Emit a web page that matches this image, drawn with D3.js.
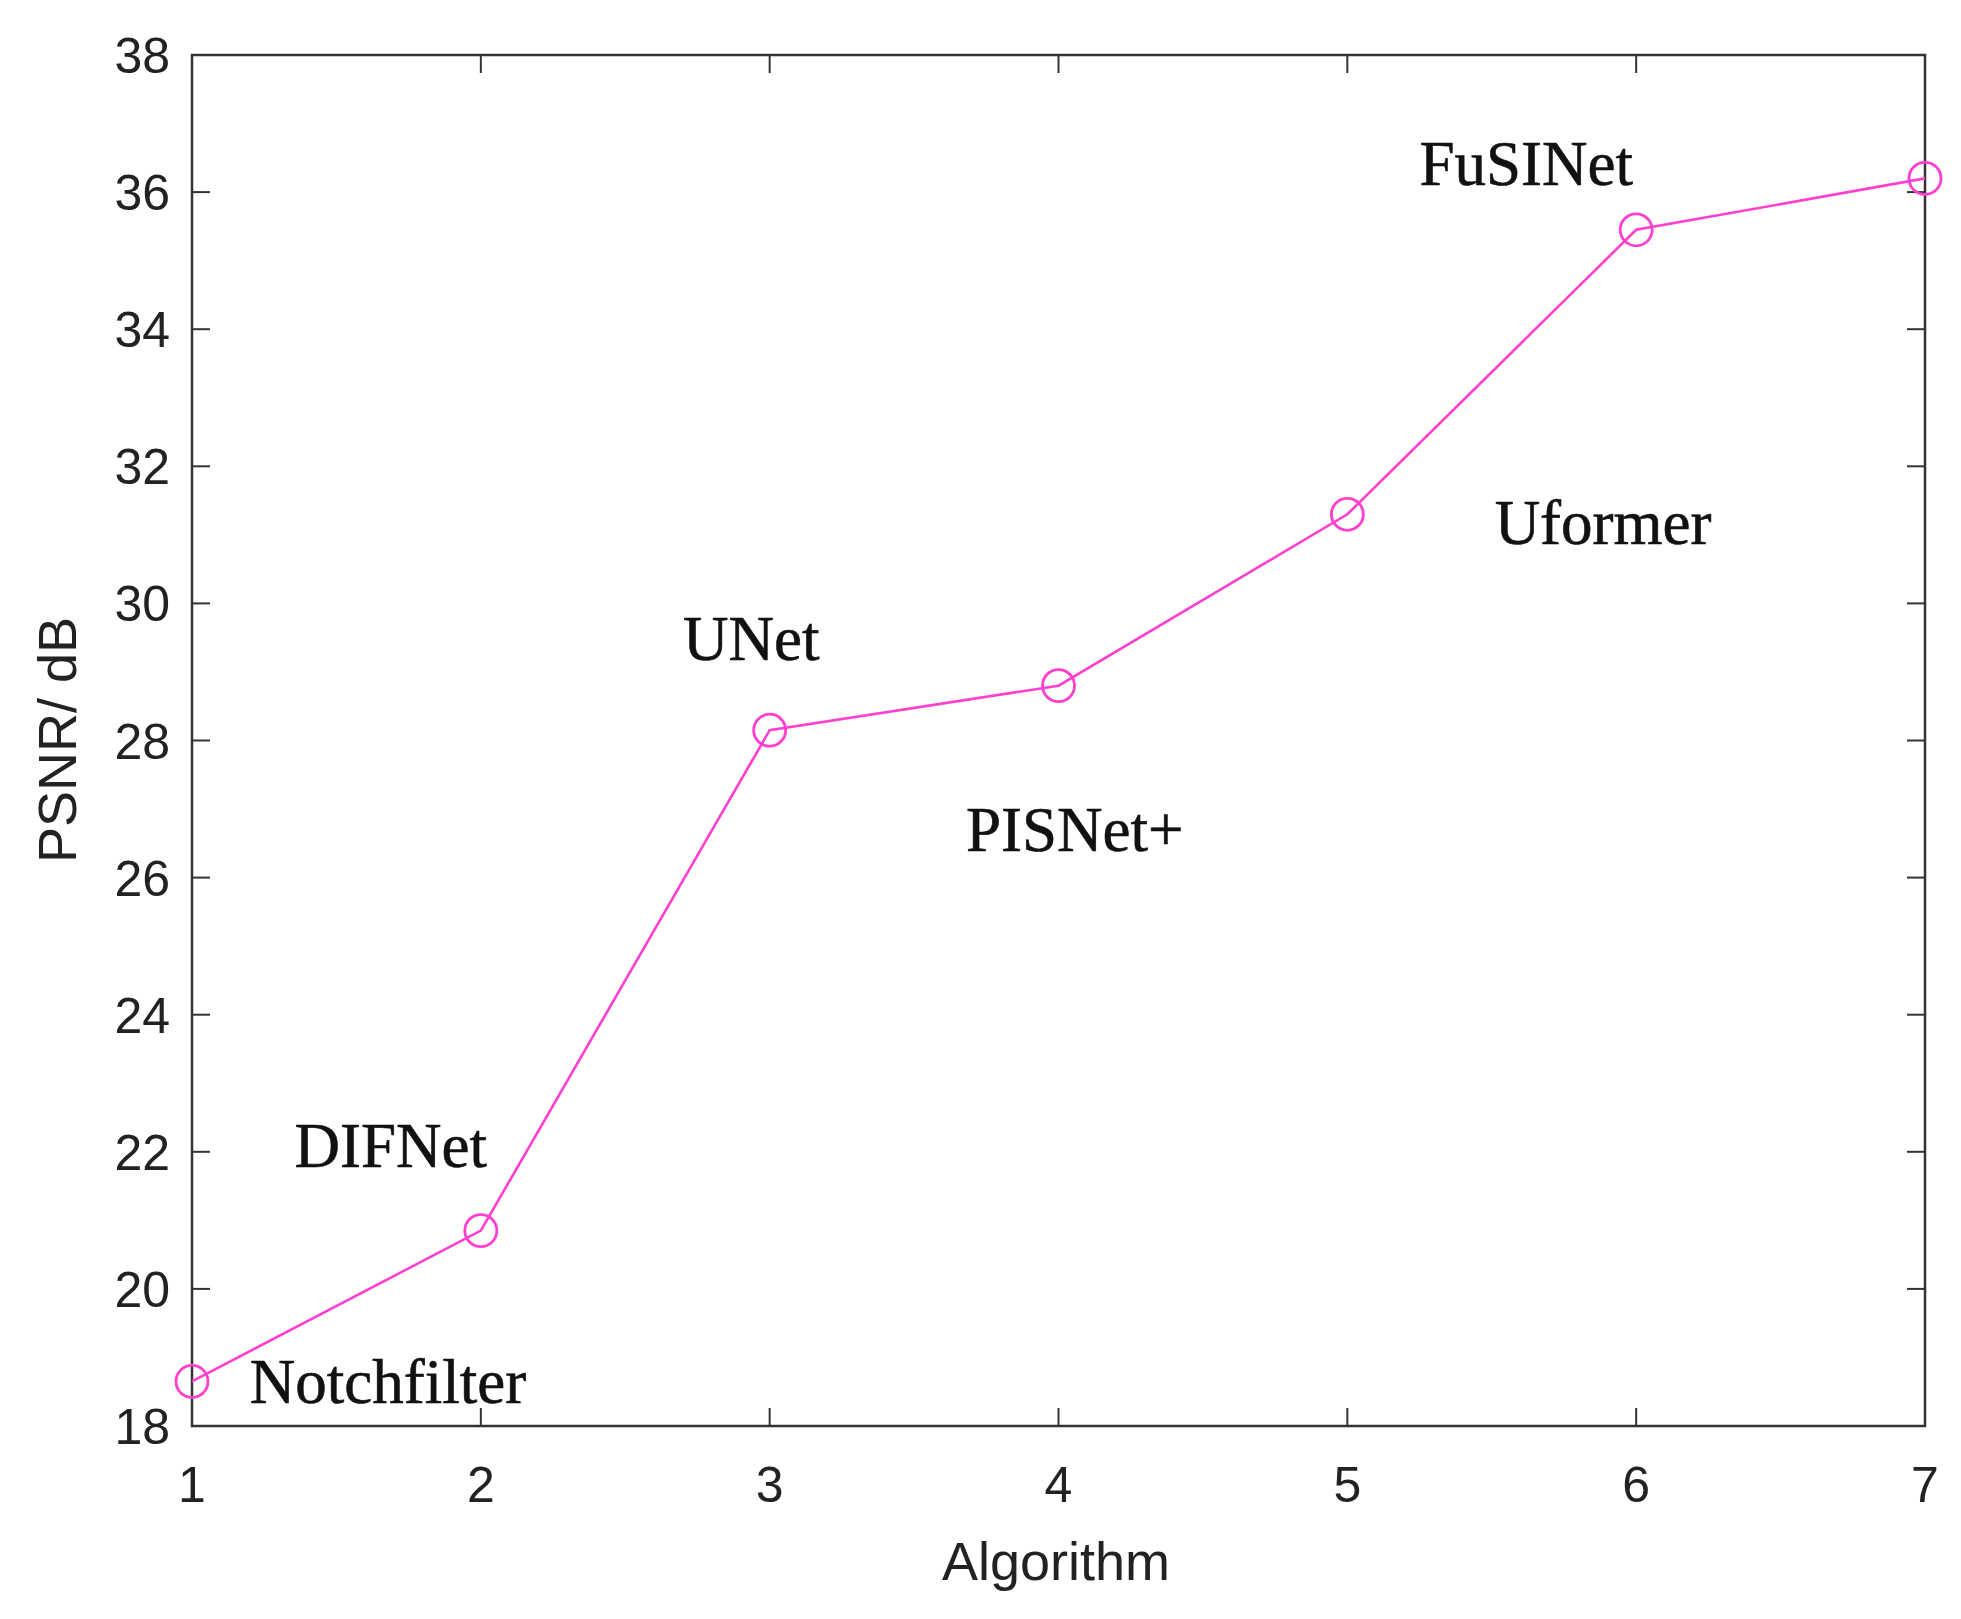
<!DOCTYPE html>
<html><head><meta charset="utf-8">
<script src="https://cdn.jsdelivr.net/npm/d3@7"></script>
<style>body{margin:0;background:#fff}</style></head>
<body><svg id="c" width="1961" height="1619"></svg>
<script>
const xs = [1,2,3,4,5,6,7];
const psnr = [18.65,20.85,28.15,28.8,31.3,35.45,36.2];
const yTicks = [18,20,22,24,26,28,30,32,34,36,38];
const names = ["Notchfilter","DIFNet","UNet","PISNet+","Uformer","FuSINet"];
const nameAt = [[1.20,18.33],[1.355,21.78],[2.70,29.17],[3.68,26.39],[5.51,30.86],[5.25,36.1]];

const svg = d3.select("#c");
const L=192,R=1925,T=55,B=1426;
const x=d3.scaleLinear().domain([1,7]).range([L,R]);
const y=d3.scaleLinear().domain([18,38]).range([B,T]);
const col="#ff3fcf", ax="#333";
svg.append("rect").attr("x",L).attr("y",T).attr("width",R-L).attr("height",B-T).attr("fill","none").attr("stroke",ax).attr("stroke-width",2.5);
const tk=18;
const g=svg.append("g");
xs.forEach(v=>{
  g.append("line").attr("x1",x(v)).attr("x2",x(v)).attr("y1",B).attr("y2",B-tk).attr("stroke",ax).attr("stroke-width",2);
  g.append("line").attr("x1",x(v)).attr("x2",x(v)).attr("y1",T).attr("y2",T+tk).attr("stroke",ax).attr("stroke-width",2);
  g.append("text").attr("x",x(v)).attr("y",1502).attr("text-anchor","middle").attr("font-family","Liberation Sans, Arial").attr("font-size",50).attr("fill","#222").text(v);
});
yTicks.forEach(v=>{
  g.append("line").attr("x1",L).attr("x2",L+tk).attr("y1",y(v)).attr("y2",y(v)).attr("stroke",ax).attr("stroke-width",2);
  g.append("line").attr("x1",R).attr("x2",R-tk).attr("y1",y(v)).attr("y2",y(v)).attr("stroke",ax).attr("stroke-width",2);
  g.append("text").attr("x",170).attr("y",y(v)+18).attr("text-anchor","end").attr("font-family","Liberation Sans, Arial").attr("font-size",50).attr("fill","#222").text(v);
});
svg.append("text").attr("x",1056).attr("y",1580).attr("text-anchor","middle").attr("font-family","Liberation Sans, Arial").attr("font-size",54).attr("fill","#222").text("Algorithm");
svg.append("text").attr("transform","translate(76,740) rotate(-90)").attr("text-anchor","middle").attr("font-family","Liberation Sans, Arial").attr("font-size",54).attr("fill","#222").text("PSNR/ dB");
const line=d3.line().x((d,i)=>x(xs[i])).y(d=>y(d));
svg.append("path").datum(psnr).attr("d",line).attr("fill","none").attr("stroke",col).attr("stroke-width",2.6);
svg.selectAll("circle.m").data(psnr).enter().append("circle").attr("cx",(d,i)=>x(xs[i])).attr("cy",d=>y(d)).attr("r",16).attr("fill","none").attr("stroke",col).attr("stroke-width",2.8);
names.forEach((n,i)=>{
  svg.append("text").attr("x",x(nameAt[i][0])).attr("y",y(nameAt[i][1])).attr("font-family","Liberation Serif, Times New Roman").attr("font-size",63).attr("fill","#111").attr("stroke","#111").attr("stroke-width",0.6).text(n);
});
</script></body></html>
